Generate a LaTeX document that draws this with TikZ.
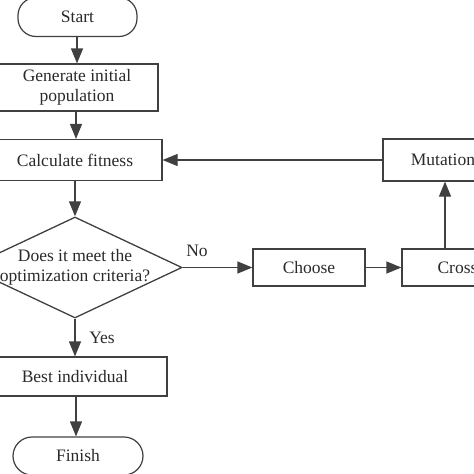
\documentclass[tikz,border=0pt]{standalone}
\usepackage{fontspec}
\setmainfont{Liberation Serif}
\usetikzlibrary{arrows.meta,shapes.geometric}
\definecolor{linec}{HTML}{404040}
\definecolor{textc}{HTML}{2A2A2A}
\begin{document}
\begin{tikzpicture}[x=1pt,y=-1pt,
  every node/.style={text=textc, font=\fontsize{17.5}{20}\selectfont},
  box/.style={draw=linec, line width=1.2pt, rectangle, inner sep=0pt, align=center},
  term/.style={box, rounded corners=18pt},
  flow/.style={draw=linec, line width=1.2pt, -{Triangle[length=15pt,width=12pt]}},
  lbl/.style={inner sep=0pt}]
\useasboundingbox (0,0) rectangle (474,474);
\clip (0,0) rectangle (474,474);
\node[term, minimum width=119pt, minimum height=39pt] (start) at (77.5,17) {Start};
\node[box, minimum width=162pt, minimum height=47pt] (gen) at (77,87.5) {Generate initial\\population};
\node[box, minimum width=174pt, minimum height=41pt] (calc) at (75,160) {Calculate fitness};
\node[draw=linec, line width=1.3pt, diamond, inner sep=0pt, minimum width=214pt, minimum height=101pt] (dia) at (75,267.5) {};
\node[lbl, align=center] (diatext) at (dia.center) {Does it meet the\\optimization criteria?};
\node[box, minimum width=112pt, minimum height=37pt] (choose) at (309,267.5) {Choose};
\node[box, minimum width=142pt, minimum height=37pt] (cross) at (473,267.5) {Crossover};
\node[box, minimum width=120pt, minimum height=42pt] (mut) at (443,160) {Mutation};
\node[box, minimum width=184pt, minimum height=39pt] (best) at (75,376.5) {Best individual};
\node[term, minimum width=130pt, minimum height=38pt, rounded corners=19pt] (finish) at (78,456) {Finish};
\node[lbl] (no) at (197,251) {No};
\node[lbl] (yes) at (102,338) {Yes};
\draw[flow] (start.south -| 77,0) -- (gen.north -| 77,0);
\draw[flow] (gen.south -| 76,0) -- (calc.north -| 76,0);
\draw[flow] (calc.south) -- (dia.north);
\draw[flow] (dia.south) -- (best.north);
\draw[flow] (best.south -| 76,0) -- (finish.north -| 76,0);
\draw[flow] (dia.east) -- (choose.west);
\draw[flow] (choose.east) -- (cross.west);
\draw[flow] (cross.north -| 445,0) -- (mut.south -| 445,0);
\draw[flow] (mut.west) -- (calc.east);
\end{tikzpicture}
\end{document}
